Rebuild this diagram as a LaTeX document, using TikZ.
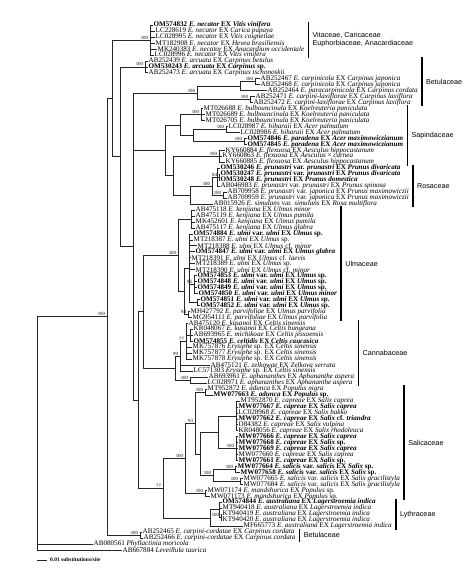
\documentclass[tikz,border=0pt]{standalone}
\usepackage{fontspec}
\setmainfont{Liberation Serif}
\newfontfamily\famfont{Liberation Sans}
\usetikzlibrary{calc}
\tikzset{
 leaf/.style={anchor=west, inner sep=0.5pt, font=\fontsize{7.1}{7.1}\selectfont},
 br/.style={line width=0.5pt, draw=black!85},
 bs/.style={anchor=south east, inner sep=0.3pt, font=\fontsize{4.8}{4.8}\selectfont},
 fbar/.style={line width=1.4pt},
 fam/.style={anchor=west, inner sep=0pt, font=\famfont\fontsize{7.2}{8.4}\selectfont, align=left},
}
\newcommand\lf[4]{\node[leaf] (#1) at (#2,{25+(#3-1)*5.966}) {#4};}
\newcommand\ii[1]{\textit{#1}}
\newcommand\bsl[2]{\node[bs] (b#1) at ([xshift=-1.5pt,yshift=0.3pt]#1) {#2};}
\newcommand\inode[4]{\path let \p1=($(#3)!.5!(#4)$) in coordinate (#1) at (#2pt,\y1);}
\makeatletter
\newcommand\maxeast[1]{\gdef\mxe{0}%
 \foreach \l in {#1}{\pgfpointanchor{\l}{east}%
   \pgfmathsetmacro\tmpm{max(\mxe,\pgf@x)}\xdef\mxe{\tmpm}}}
\makeatother
\newcommand\fambar[5]{\maxeast{#2}%
 \pgfmathsetmacro\bx{\mxe+3.5}%
 \pgfmathsetmacro\ya{-(25+(#3-1)*5.966-3.5)}%
 \pgfmathsetmacro\yb{-(25+(#4-1)*5.966+3.5)}%
 \pgfmathsetmacro\ym{(\ya+\yb)/2}%
 \pgfmathsetmacro\lx{\bx+4}%
 \draw[fbar] (\bx pt,\ya pt) -- (\bx pt,\yb pt);
 \node[fam] (#1) at (\lx pt,\ym pt) {#5};}
\begin{document}
\begin{tikzpicture}[x=1pt,y=-1pt]
\useasboundingbox (0,0) rectangle (474,568);
\fill[white] (0,0) rectangle (474,568);
% leaves
\lf{L1}{153}{1}{\bfseries OM574832 \ii{E. necator} EX \ii{Vitis vinifera}}
\lf{L2}{155}{2}{LC228619 \ii{E. necator} EX \ii{Carica papaya}}
\lf{L3}{155}{3}{LC028995 \ii{E. necator} EX \ii{Vitis coignetiae}}
\lf{L4}{155}{4}{MT182908 \ii{E. necator} EX \ii{Hevea brasiliensis}}
\lf{L5}{157}{5}{MK240383 \ii{E. necator} EX \ii{Anacardium occidentale}}
\lf{L6}{154}{6}{LC028996 \ii{E. necator} EX \ii{Vitis vinifera}}
\lf{L7}{148}{7}{AB252439 \ii{E. arcuata} EX \ii{Carpinus betulus}}
\lf{L8}{148}{8}{\bfseries OM530243 \ii{E. arcuata} EX \ii{Carpinus} sp.}
\lf{L9}{148}{9}{AB252473 \ii{E. arcuata} EX \ii{Carpinus tschonoskii}}
\lf{L10}{260}{10}{AB252467 \ii{E. carpinicola} EX \ii{Carpinus japonica}}
\lf{L11}{260}{11}{AB252468 \ii{E. carpinicola} EX \ii{Carpinus japonica}}
\lf{L12}{267}{12}{AB252464 \ii{E. paracarpinicola} EX \ii{Carpinus cordata}}
\lf{L13}{255}{13}{AB252471 \ii{E. carpini-laxiflorae} EX \ii{Carpinus laxiflora}}
\lf{L14}{253}{14}{AB252472 \ii{E. carpini-laxiflorae} EX \ii{Carpinus laxiflora}}
\lf{L15}{203}{15}{MT026688 \ii{E. bulbouncinula} EX \ii{Koelreuteria paniculata}}
\lf{L16}{205}{16}{MT026689 \ii{E. bulbouncinula} EX \ii{Koelreuteria paniculata}}
\lf{L17}{205}{17}{MT026705 \ii{E. bulbouncinula} EX \ii{Koelreuteria paniculata}}
\lf{L18}{228}{18}{LC028987 \ii{E. hiharaii} EX \ii{Acer palmatum}}
\lf{L19}{240}{19}{LC028986 \ii{E. hiharaii} EX \ii{Acer palmatum}}
\lf{L20}{247}{20}{\bfseries OM574846 \ii{E. paradena} EX \ii{Acer maximowiczianum}}
\lf{L21}{247}{21}{\bfseries OM574845 \ii{E. paradena} EX \ii{Acer maximowiczianum}}
\lf{L22}{225}{22}{KY660884 \ii{E. flexuosa} EX \ii{Aesculus hippocastanum}}
\lf{L23}{222}{23}{KY660863 \ii{E. flexuosa} EX \ii{Aesculus} × \ii{carnea}}
\lf{L24}{225}{24}{KY660885 \ii{E. flexuosa} EX \ii{Aesculus hippocastanum}}
\lf{L25}{220}{25}{\bfseries OM530246 \ii{E. prunastri} var. \ii{prunastri} EX \ii{Prunus divaricata}}
\lf{L26}{220}{26}{\bfseries OM530247 \ii{E. prunastri} var. \ii{prunastri} EX \ii{Prunus divaricata}}
\lf{L27}{220}{27}{\bfseries OM530248 \ii{E. prunastri} EX \ii{Prunus domestica}}
\lf{L28}{220}{28}{AB046983 \ii{E. prunastri} var. \ii{prunastri} EX \ii{Prunus spinosa}}
\lf{L29}{227}{29}{AB709958 \ii{E. prunastri} var. \ii{japonica} EX \ii{Prunus maximowiczii}}
\lf{L30}{227}{30}{AB709959 \ii{E. prunastri} var. \ii{japonica} EX \ii{Prunus maximowiczii}}
\lf{L31}{213}{31}{AB015926 \ii{E. simulans} var. \ii{simulans} EX \ii{Rosa multiflora}}
\lf{L32}{195}{32}{AB475118 \ii{E. kenjiana} EX \ii{Ulmus minor}}
\lf{L33}{195}{33}{AB475119 \ii{E. kenjiana} EX \ii{Ulmus pumila}}
\lf{L34}{195}{34}{MK452601 \ii{E. kenjiana} EX \ii{Ulmus pumila}}
\lf{L35}{195}{35}{AB475117 \ii{E. kenjiana} EX \ii{Ulmus glabra}}
\lf{L36}{193}{36}{\bfseries OM574884 \ii{E. ulmi} var. \ii{ulmi} EX \ii{Ulmus} sp.}
\lf{L37}{193}{37}{MT218387 \ii{E. ulmi} EX \ii{Ulmus} sp.}
\lf{L38}{197}{38}{MT218388 \ii{E. ulmi} EX \ii{Ulmus} cf. \ii{minor}}
\lf{L39}{195}{39}{\bfseries OM574847 \ii{E. ulmi} var. \ii{ulmi} EX \ii{Ulmus glabra}}
\lf{L40}{191}{40}{MT218391 \ii{E. ulmi} EX \ii{Ulmus} cf. \ii{laevis}}
\lf{L41}{195}{41}{MT218389 \ii{E. ulmi} EX \ii{Ulmus} sp.}
\lf{L42}{195}{42}{MT218390 \ii{E. ulmi} EX \ii{Ulmus} cf. \ii{minor}}
\lf{L43}{197}{43}{\bfseries OM574853 \ii{E. ulmi} var. \ii{ulmi} EX \ii{Ulmus} sp.}
\lf{L44}{197}{44}{\bfseries OM574848 \ii{E. ulmi} var. \ii{ulmi} EX \ii{Ulmus} sp.}
\lf{L45}{197}{45}{\bfseries OM574849 \ii{E. ulmi} var. \ii{ulmi} EX \ii{Ulmus} sp.}
\lf{L46}{198}{46}{\bfseries OM574850 \ii{E. ulmi} var. \ii{ulmi} EX \ii{Ulmus minor}}
\lf{L47}{200}{47}{\bfseries OM574851 \ii{E. ulmi} var. \ii{ulmi} EX \ii{Ulmus} sp.}
\lf{L48}{200}{48}{\bfseries OM574852 \ii{E. ulmi} var. \ii{ulmi} EX \ii{Ulmus} sp.}
\lf{L49}{190}{49}{MH427792 \ii{E. parvifoliae} EX \ii{Ulmus parvifolia}}
\lf{L50}{192}{50}{MG954111 \ii{E. parvifoliae} EX \ii{Ulmus parvifolia}}
\lf{L51}{188}{51}{AB475120 \ii{E. kusanoi} EX \ii{Celtis sinensis}}
\lf{L52}{193}{52}{KR048067 \ii{E. kusanoi} EX \ii{Celtis bungeana}}
\lf{L53}{193}{53}{AB693965 \ii{E. michikoae} EX \ii{Celtis jessoensis}}
\lf{L54}{193}{54}{\bfseries OM574855 \ii{E. celtidis} EX \ii{Celtis caucasica}}
\lf{L55}{192}{55}{MK757876 \ii{Erysiphe} sp. EX \ii{Celtis sinensis}}
\lf{L56}{192}{56}{MK757877 \ii{Erysiphe} sp. EX \ii{Celtis sinensis}}
\lf{L57}{192}{57}{MK757878 \ii{Erysiphe} sp. EX \ii{Celtis sinensis}}
\lf{L58}{210}{58}{AB475121 \ii{E. zelkowae} EX \ii{Zelkova serrata}}
\lf{L59}{193}{59}{LC571303 \ii{Erysiphe} sp. EX \ii{Celtis sinensis}}
\lf{L60}{208}{60}{AB693961 \ii{E. aphananthes} EX \ii{Aphananthe aspera}}
\lf{L61}{207}{61}{LC028971 \ii{E. aphananthes} EX \ii{Aphananthe aspera}}
\lf{L62}{207}{62}{MT952872 \ii{E. adunca} EX \ii{Populus nigra}}
\lf{L63}{213}{63}{\bfseries MW077663 \ii{E. adunca} EX \ii{Populus} sp.}
\lf{L64}{240}{64}{MT952870 \ii{E. capreae} EX \ii{Salix caprea}}
\lf{L65}{238}{65}{\bfseries MW077667 \ii{E. capreae} EX \ii{Salix caprea}}
\lf{L66}{238}{66}{LC028968 \ii{E. capreae} EX \ii{Salix bakko}}
\lf{L67}{238}{67}{\bfseries MW077662 \ii{E. capreae} EX \ii{Salix} cf. \ii{triandra}}
\lf{L68}{238}{68}{D84382 \ii{E. capreae} EX \ii{Salix vulpina}}
\lf{L69}{238}{69}{KR048056 \ii{E. capreae} EX \ii{Salix rhodoleuca}}
\lf{L70}{238}{70}{\bfseries MW077666 \ii{E. capreae} EX \ii{Salix caprea}}
\lf{L71}{238}{71}{\bfseries MW077668 \ii{E. capreae} EX \ii{Salix} sp.}
\lf{L72}{238}{72}{\bfseries MW077669 \ii{E. capreae} EX \ii{Salix caprea}}
\lf{L73}{238}{73}{MW077660 \ii{E. capreae} EX \ii{Salix caprea}}
\lf{L74}{238}{74}{\bfseries MW077661 \ii{E. capreae} EX \ii{Salix} sp.}
\lf{L75}{237}{75}{\bfseries MW077664 \ii{E. salicis} var. \ii{salicis} EX \ii{Salix} sp.}
\lf{L76}{240}{76}{\bfseries MW077658 \ii{E. salicis} var. \ii{salicis} EX \ii{Salix} sp.}
\lf{L77}{243}{77}{MW077665 \ii{E. salicis} var. \ii{salicis} EX \ii{Salix gracilistyla}}
\lf{L78}{243}{78}{MW077684 \ii{E. salicis} var. \ii{salicis} EX \ii{Salix gracilistyla}}
\lf{L79}{207}{79}{MW071174 \ii{E. mandshurica} EX \ii{Populus} sp.}
\lf{L80}{210}{80}{MW071173 \ii{E. mandshurica} EX \ii{Populus} sp.}
\lf{L81}{222}{81}{\bfseries OM574844 \ii{E. australiana} EX \ii{Lagerstroemia indica}}
\lf{L82}{222}{82}{MT940418 \ii{E. australiana} EX \ii{Lagerstroemia indica}}
\lf{L83}{222}{83}{KT940419 \ii{E. australiana} EX \ii{Lagerstroemia indica}}
\lf{L84}{222}{84}{KT940420 \ii{E. australiana} EX \ii{Lagerstroemia indica}}
\lf{L85}{243}{85}{MF665773 \ii{E. australiana} EX \ii{Lagerstroemia indica}}
\lf{L86}{142}{86}{AB252465 \ii{E. carpini-cordatae} EX \ii{Carpinus cordata}}
\lf{L87}{143}{87}{AB252466 \ii{E. carpini-cordatae} EX \ii{Carpinus cordata}}
\lf{L88}{93}{88}{AB080561 \ii{Phyllactinia moricola}}
\lf{L89}{122}{89}{AB667884 \ii{Leveillula taurica}}
% internal nodes
\inode{nVit}{150}{L1}{L6}
\inode{nArc}{145}{L7}{L9}
\inode{nCar1}{255}{L10}{L11}
\inode{nCar2}{240}{nCar1}{L12}
\inode{nLax}{250}{L13}{L14}
\inode{nBet}{197}{nCar2}{nLax}
\inode{nBulb}{201}{L15}{L17}
\inode{nHih}{226}{L18}{L19}
\inode{nPar}{244}{L20}{L21}
\inode{nHP}{193}{nHih}{nPar}
\inode{nSap}{180}{nBulb}{nHP}
\inode{nFlex}{219}{L22}{L24}
\inode{nP84}{219}{L26}{L27}
\inode{nPrA}{217}{L25}{L28}
\inode{nJap}{223}{L29}{L30}
\inode{nPrC}{212}{nPrA}{nJap}
\inode{nRos}{190}{nPrC}{L31}
\inode{nFR}{173}{nFlex}{nRos}
\inode{nSR}{165}{nSap}{nFR}
\inode{nKen}{191}{L32}{L35}
\inode{nU2}{194}{L43}{L46}
\inode{nU3}{197}{L47}{L48}
\inode{nUlmi}{189}{L36}{nU3}
\inode{nParv}{188}{L49}{L50}
\inode{nUP}{184}{nUlmi}{nParv}
\inode{nUL}{178}{nKen}{nUP}
\inode{nCel2}{190}{L52}{L54}
\inode{nCelt}{186}{L51}{L57}
\inode{nCZ}{180}{nCelt}{L59}
\inode{nAph}{190}{L60}{L61}
\inode{nCan}{175}{nCZ}{nAph}
\inode{nUC}{143}{nUL}{nCan}
\inode{nAd}{205}{L62}{L63}
\inode{nCapA}{236}{L64}{L69}
\inode{nCapB}{236}{L70}{L74}
\inode{nCap}{218}{nCapA}{nCapB}
\inode{nS1}{235}{L75}{L76}
\inode{nS2}{240}{L77}{L78}
\inode{nSal}{213}{nS1}{nS2}
\inode{nCS}{200}{nCap}{nSal}
\inode{nAdCS}{195}{nAd}{nCS}
\inode{nMan}{205}{L79}{L80}
\inode{nSALI}{185}{nAdCS}{nMan}
\inode{nKT}{221}{L83}{L84}
\inode{nLyA}{219}{L81}{nKT}
\inode{nLy}{210}{nLyA}{L85}
\inode{nSL}{163}{nSALI}{nLy}
\inode{nBig}{138}{nUC}{nSL}
\inode{nA}{133}{nBet}{nBig}
\inode{nArcN}{120}{nArc}{nA}
\inode{nVitN}{112}{nVit}{nArcN}
\inode{nCC}{140}{L86}{L87}
\inode{nE}{107}{nVitN}{nCC}
\inode{R}{37}{nE}{L89}
% branches
\foreach \p/\c in {nVit/L1,nVit/L2,nVit/L3,nVit/L4,nVit/L5,nVit/L6,
 nArc/L7,nArc/L8,nArc/L9,nCar1/L10,nCar1/L11,nCar2/nCar1,nCar2/L12,nLax/L13,nLax/L14,
 nBet/nCar2,nBet/nLax,nBulb/L15,nBulb/L16,nBulb/L17,nHih/L18,nHih/L19,nPar/L20,nPar/L21,
 nHP/nHih,nHP/nPar,nSap/nBulb,nSap/nHP,nFlex/L22,nFlex/L23,nFlex/L24,
 nP84/L26,nP84/L27,nPrA/L25,nPrA/nP84,nPrA/L28,nJap/L29,nJap/L30,nPrC/nPrA,nPrC/nJap,
 nRos/nPrC,nRos/L31,nFR/nFlex,nFR/nRos,nSR/nSap,nSR/nFR,
 nKen/L32,nKen/L33,nKen/L34,nKen/L35,
 nUlmi/L36,nUlmi/L37,nUlmi/L38,nUlmi/L39,nUlmi/L40,nUlmi/L41,nUlmi/L42,nUlmi/nU2,nUlmi/nU3,
 nU2/L43,nU2/L44,nU2/L45,nU2/L46,nU3/L47,nU3/L48,nParv/L49,nParv/L50,
 nUP/nUlmi,nUP/nParv,nUL/nKen,nUL/nUP,
 nCel2/L52,nCel2/L53,nCel2/L54,nCelt/L51,nCelt/nCel2,nCelt/L55,nCelt/L56,nCelt/L57,
 nCZ/nCelt,nCZ/L58,nCZ/L59,nAph/L60,nAph/L61,nCan/nCZ,nCan/nAph,nUC/nUL,nUC/nCan,
 nAd/L62,nAd/L63,nCapA/L64,nCapA/L65,nCapA/L66,nCapA/L67,nCapA/L68,nCapA/L69,
 nCapB/L70,nCapB/L71,nCapB/L72,nCapB/L73,nCapB/L74,nCap/nCapA,nCap/nCapB,
 nS1/L75,nS1/L76,nS2/L77,nS2/L78,nSal/nS1,nSal/nS2,nCS/nCap,nCS/nSal,nAdCS/nAd,nAdCS/nCS,
 nMan/L79,nMan/L80,nSALI/nAdCS,nSALI/nMan,nKT/L83,nKT/L84,nLyA/L81,nLyA/L82,nLyA/nKT,
 nLy/nLyA,nLy/L85,nSL/nSALI,nSL/nLy,nBig/nUC,nBig/nSL,
 nA/nBet,nA/nSR,nA/nBig,nArcN/nArc,nArcN/nA,nVitN/nVit,nVitN/nArcN,
 nCC/L86,nCC/L87,nE/nVitN,nE/nCC,R/nE,R/L88,R/L89}
 {\draw[br] (\p) |- (\c.west);}
% bootstrap values
\bsl{nVit}{100}\bsl{nArc}{100}\bsl{nCar1}{100}\bsl{nLax}{100}\bsl{nBet}{100}
\bsl{nBulb}{100}\bsl{nHih}{100}\bsl{nPar}{100}\bsl{nFlex}{100}\bsl{nP84}{84}
\bsl{nPrC}{100}\bsl{nJap}{100}\bsl{nE}{100}\bsl{nUL}{100}\bsl{nU2}{95}
\bsl{nParv}{94}\bsl{nCelt}{77}\bsl{nCZ}{99}\bsl{nAph}{100}\bsl{nAd}{100}
\bsl{nAdCS}{93}\bsl{nCapB}{100}\bsl{nSALI}{100}\bsl{nSal}{100}\bsl{nS1}{100}
\bsl{nS2}{100}\bsl{nSL}{77}\bsl{nMan}{100}\bsl{nKT}{100}\bsl{nCC}{100}
% family bars
\fambar{fVit}{L1,L2,L3,L4,L5,L6}{1}{6}{Vitaceae, Caricaceae\\ Euphorbiaceae, Anacardiaceae}
\fambar{fBet}{L7,L8,L9,L10,L11,L12,L13,L14}{7}{14}{Betulaceae}
\fambar{fSap}{L15,L16,L17,L18,L19,L20,L21,L22,L23,L24}{15}{24}{Sapindaceae}
\fambar{fRos}{L25,L26,L27,L28,L29,L30,L31}{25}{31}{Rosaceae}
\fambar{fUlm}{L32,L33,L34,L35,L36,L37,L38,L39,L40,L41,L42,L43,L44,L45,L46,L47,L48,L49,L50}{32}{50}{Ulmaceae}
\fambar{fCan}{L51,L52,L53,L54,L55,L56,L57,L58,L59,L60,L61}{51}{61}{Cannabaceae}
\fambar{fSal}{L62,L63,L64,L65,L66,L67,L68,L69,L70,L71,L72,L73,L74,L75,L76,L77,L78,L79,L80}{62}{80}{Salicaceae}
\fambar{fLy}{L81,L82,L83,L84,L85}{81}{85}{Lythraceae}
\fambar{fBet2}{L86,L87}{86}{87}{Betulaceae}
% scale bar
\coordinate (s0) at (37,560);
\coordinate (s1) at (47,560);
\draw[br] (s0) -- (s1);
\node[anchor=west, inner sep=0pt, font=\bfseries\fontsize{5.5}{5.5}\selectfont] (scl) at (50,560) {0.01 substitutions/site};
\end{tikzpicture}
\end{document}
